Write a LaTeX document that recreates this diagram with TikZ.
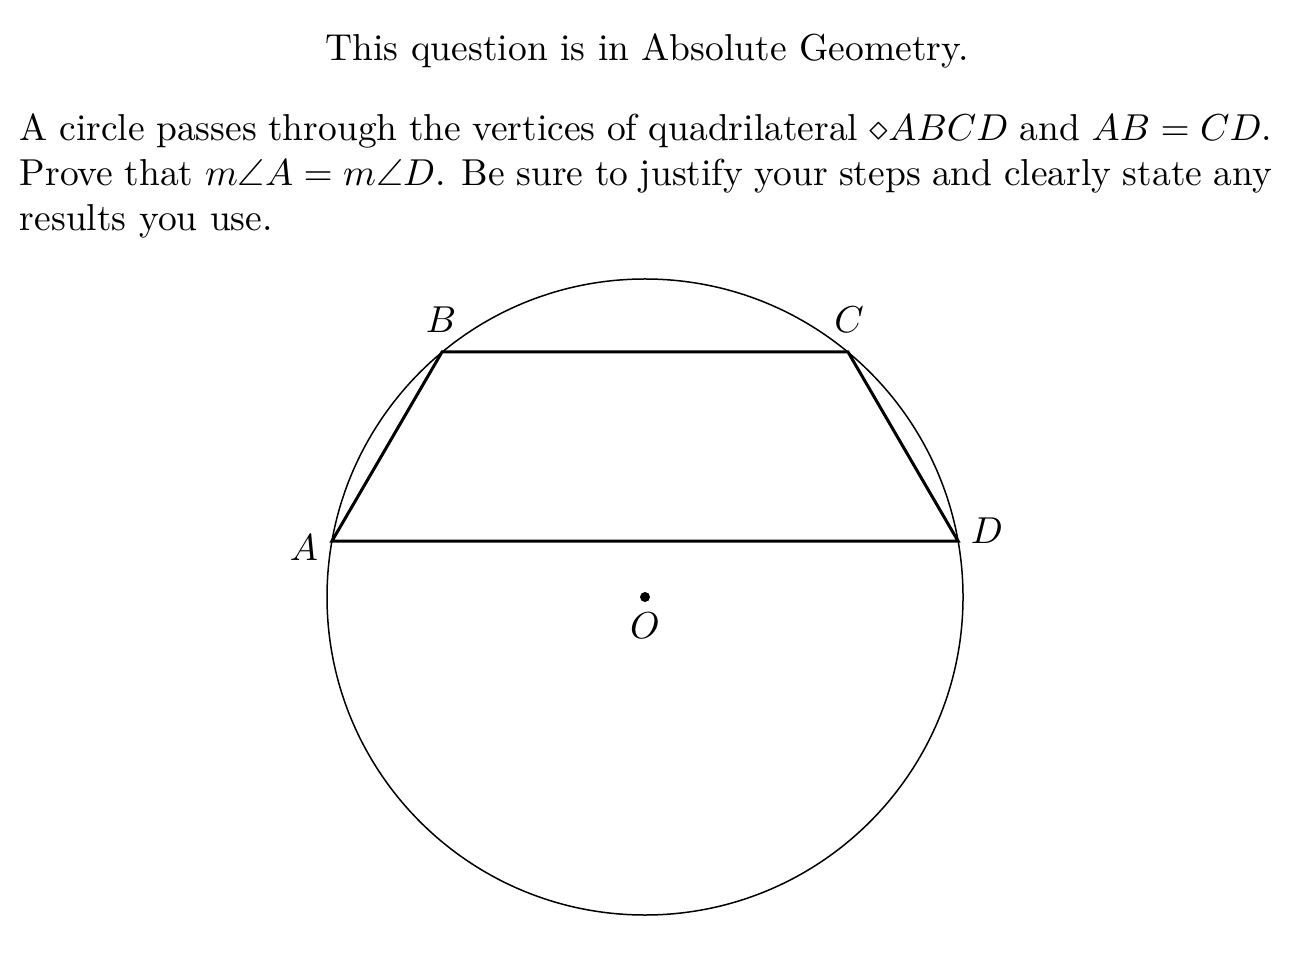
\documentclass[tikz,border=0pt]{standalone}
\usepackage{amssymb}
\usepackage{tikz}
\usetikzlibrary{positioning}
\tikzstyle{base}=[x=0.26667pt, y=0.26667pt, inner sep=0pt, outer sep=0pt]
\tikzstyle{rim}=[black, line width=0.4pt]
\tikzstyle{side}=[black, line width=0.8pt]
\tikzstyle{vlabel}=[inner sep=1pt]

\begin{document}
\begin{tikzpicture}[base]
    \path [use as bounding box] (0,0) rectangle (1305,976);
        \node [anchor=base] (title) at (647,915) {This question is in Absolute Geometry.};
        \node [anchor=north west, text width=333.9pt, align=justify] (task) at (20,862)
            {A circle passes through the vertices of quadrilateral $\diamond ABCD$ and $AB=CD$.
             Prove that $m\angle A = m\angle D$. Be sure to justify your steps and clearly
             state any results you use.\par};
        \coordinate (O) at (645,379);
        \coordinate (A) at (332,435);
        \coordinate (B) at (442,624);
        \coordinate (C) at (848,624);
        \coordinate (D) at (958,435);
        \draw [rim] (O) circle (318);
        \draw [side] (A) -- (B) -- (C) -- (D) -- cycle;
        \fill (O) circle (5);
        \node [vlabel] (lA) at (304,428) {$A$};
        \node [vlabel] (lB) at (441,656) {$B$};
        \node [vlabel] (lC) at (849,656) {$C$};
        \node [vlabel] (lD) at (987,445) {$D$};
        \node [vlabel] (lO) at (645,350) {$O$};
    \end{tikzpicture}
\end{document}
